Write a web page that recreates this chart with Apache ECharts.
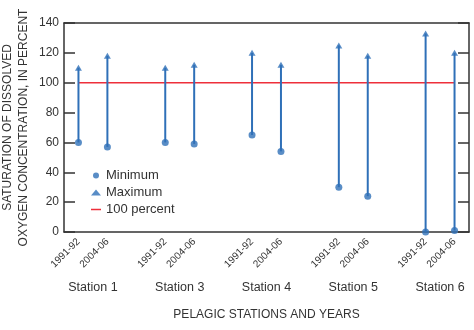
<!DOCTYPE html>
<html>
<head>
<meta charset="utf-8">
<script src="https://cdn.jsdelivr.net/npm/echarts@6/dist/echarts.min.js"></script>
<style>html,body{margin:0;padding:0;background:#fff}#c{width:474px;height:330px}</style>
</head>
<body>
<div id="c"></div>
<script>
const categories = ['1991-92','2004-06','','1991-92','2004-06','','1991-92','2004-06','','1991-92','2004-06','','1991-92','2004-06'];
const stations = ['Station 1','Station 3','Station 4','Station 5','Station 6'];
const stationPositions = [0.5, 3.5, 6.5, 9.5, 12.5];
const minimumValues = [60, 57, null, 60, 59, null, 65, 54, null, 30, 24, null, 0, 1];
const maximumValues = [110, 118, null, 110, 112, null, 120, 112, null, 125, 118, null, 133, 120];
const referenceValue = 100;
const yTicks = [0, 20, 40, 60, 80, 100, 120, 140];

const FONT = "'Liberation Sans Narrow','Liberation Sans',Arial,sans-serif";
const BLUE = '#2f70b8';
const RED = '#ee2f3b';
const AXIS = '#333';

const stemData = [];
categories.forEach((c, i) => {
  if (minimumValues[i] != null) stemData.push([i, minimumValues[i], maximumValues[i]]);
});

const chart = echarts.init(document.getElementById('c'), null, {renderer: 'canvas'});
chart.setOption({
  animation: false,
  textStyle: {fontFamily: FONT},
  grid: {left: 64, right: 5, top: 23, bottom: 98, containLabel: false, outerBoundsMode: 'none'},
  legend: {
    orient: 'vertical', left: 86, top: 164, itemGap: 4, itemWidth: 10, itemHeight: 6,
    textStyle: {fontFamily: FONT, fontSize: 13, color: AXIS},
    data: [
      {name: 'Minimum', icon: 'circle'},
      {name: 'Maximum', icon: 'triangle'},
      {name: '100 percent', icon: 'path://M0,0L20,0L20,3L0,3Z', itemStyle: {color: RED}}
    ]
  },
  xAxis: [
    {
      type: 'category', data: categories, position: 'bottom', boundaryGap: true,
      axisLine: {onZero: false, lineStyle: {color: AXIS, width: 1.5}},
      axisTick: {inside: true, length: 5, lineStyle: {color: AXIS, width: 1.5}},
      axisLabel: {interval: 0, rotate: 45, margin: 8, fontSize: 10, color: AXIS, fontFamily: FONT},
      name: 'PELAGIC STATIONS AND YEARS', nameLocation: 'middle', nameGap: 77, nameMoveOverlap: false,
      nameTextStyle: {fontSize: 12, color: AXIS, fontFamily: FONT}
    },
    {
      type: 'category', data: categories, position: 'top', boundaryGap: true,
      axisLine: {onZero: false, lineStyle: {color: AXIS, width: 1.5}},
      axisTick: {inside: true, length: 5, lineStyle: {color: AXIS, width: 1.5}},
      axisLabel: {show: false}
    },
    {
      type: 'value', position: 'bottom', min: -0.5, max: 13.5, interval: 0.5,
      axisLine: {show: false, onZero: false}, axisTick: {show: false}, splitLine: {show: false},
      axisLabel: {
        margin: 49, fontSize: 12.5, color: AXIS, fontFamily: FONT, showMinLabel: true, showMaxLabel: true,
        formatter: v => {
          const k = stationPositions.findIndex(p => Math.abs(p - v) < 1e-6);
          return k >= 0 ? stations[k] : '';
        }
      }
    }
  ],
  yAxis: [
    {
      type: 'value', min: yTicks[0], max: yTicks[yTicks.length - 1], interval: 20, position: 'left',
      axisLine: {show: true, onZero: false, lineStyle: {color: AXIS, width: 1.5}},
      axisTick: {show: true, inside: true, length: 11, lineStyle: {color: AXIS, width: 1.5}},
      splitLine: {show: false},
      axisLabel: {margin: 5, fontSize: 12, color: AXIS, fontFamily: FONT},
      name: 'SATURATION OF DISSOLVED\nOXYGEN CONCENTRATION, IN PERCENT',
      nameLocation: 'middle', nameGap: 32, nameRotate: 90, nameMoveOverlap: false,
      nameTextStyle: {fontSize: 12, lineHeight: 16, color: AXIS, fontFamily: FONT}
    },
    {
      type: 'value', min: yTicks[0], max: yTicks[yTicks.length - 1], interval: 20, position: 'right',
      axisLine: {show: true, onZero: false, lineStyle: {color: AXIS, width: 1.5}},
      axisTick: {show: true, inside: true, length: 11, lineStyle: {color: AXIS, width: 1.5}},
      splitLine: {show: false}, axisLabel: {show: false}
    }
  ],
  series: [
    {
      type: 'custom', name: 'stems', xAxisIndex: 0, yAxisIndex: 0,
      data: stemData, encode: {x: 0, y: [1, 2]},
      renderItem: (params, api) => {
        const p1 = api.coord([api.value(0), api.value(1)]);
        const p2 = api.coord([api.value(0), api.value(2)]);
        return {type: 'line', shape: {x1: p1[0], y1: p1[1], x2: p2[0], y2: p2[1]},
          style: {stroke: BLUE, lineWidth: 2}};
      },
      z: 2
    },
    {
      type: 'custom', name: '100 percent', xAxisIndex: 0, yAxisIndex: 0,
      data: [[0, categories.length - 1, referenceValue]], encode: {x: [0, 1], y: 2},
      itemStyle: {color: RED},
      renderItem: (params, api) => {
        const p1 = api.coord([api.value(0), api.value(2)]);
        const p2 = api.coord([api.value(1), api.value(2)]);
        return {type: 'line', shape: {x1: p1[0], y1: p1[1], x2: p2[0], y2: p2[1]},
          style: {stroke: RED, lineWidth: 1.5}};
      },
      z: 1
    },
    {
      type: 'scatter', name: 'Minimum', xAxisIndex: 0, yAxisIndex: 0,
      data: minimumValues, symbol: 'circle', symbolSize: 7,
      itemStyle: {color: BLUE}, z: 3
    },
    {
      type: 'scatter', name: 'Maximum', xAxisIndex: 0, yAxisIndex: 0,
      data: maximumValues, symbol: 'triangle', symbolSize: [7, 6],
      itemStyle: {color: BLUE}, z: 3
    }
  ]
});
</script>
</body>
</html>
